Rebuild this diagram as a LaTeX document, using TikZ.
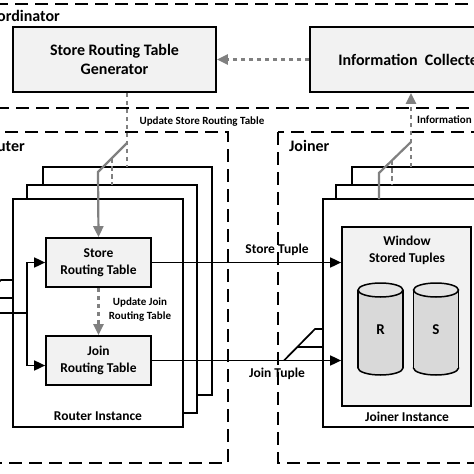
\documentclass[tikz,border=0pt]{standalone}
\usepackage{fontspec}
\setmainfont{Carlito}
\usetikzlibrary{positioning,
	arrows.meta}
\definecolor{boxgray}{HTML}{F2F2F2}
\definecolor{cylgray}{HTML}{D9D9D9}
\definecolor{linegray}{HTML}{808080}

\begin{document}
\begin{tikzpicture}[x=1pt, y=-1pt,
		region/.style={draw, line width=1.8pt, dash pattern=on 13pt off 7pt},
		inst/.style={draw, fill=white, line width=1.7pt, inner sep=0pt},
		gen/.style={draw, fill=boxgray, line width=1.7pt, align=center, inner sep=0pt, font=\fontsize{16}{19}\selectfont\bfseries},
		rtable/.style={draw, fill=boxgray, line width=1.7pt, align=center, inner sep=0pt, minimum width=105pt, minimum height=49pt, font=\fontsize{13.5}{17}\selectfont\bfseries},
		lbl/.style={font=\fontsize{13.5}{17}\selectfont\bfseries, align=center, inner sep=1pt},
		small/.style={font=\fontsize{11}{14}\selectfont\bfseries, align=center, inner sep=1pt},
		big/.style={font=\fontsize{16}{19}\selectfont\bfseries, inner sep=0pt},
		flow/.style={line width=1.7pt, -{Triangle[length=11pt, width=10pt]}},
		gline/.style={draw=linegray, line width=2.2pt},
		gdot/.style={gline, dash pattern=on 4.5pt off 3.5pt},
		gtip/.style={-{Triangle[length=11pt, width=10pt]}}]
	\useasboundingbox (0,0) rectangle (474,474);

	% regions
	\draw[region] (-20,4) rectangle (500,108);
	\draw[region] (-20,132) rectangle (228,463);
	\draw[region] (278,132) rectangle (500,463);
	\node (coord) [big, anchor=east] at (60,16) {Coordinator};
	\node (router) [big, anchor=east] at (25,146) {Router};
	\node (joiner) [big, anchor=west] at (289,146) {Joiner};

	% coordinator
	\node (srtg) [gen, minimum width=203pt, minimum height=65pt] at (114.5,59.5) {Store Routing Table\\Generator};
	\node (ic) [gen, minimum width=202pt, minimum height=65pt] at (411,59.5) {Information\ \ Collecter};
	\draw[gdot, gtip] (ic.west) -- (srtg.east);

	% router instances
	\node (rback) [inst, minimum width=169pt, minimum height=228pt] at (127.5,281) {};
	\node (rmid) [inst, minimum width=170pt, minimum height=228pt] at (112,299) {};
	\node (rinst) [inst, minimum width=170pt, minimum height=228pt] at (98,313) {};
	\node (rname) [lbl] at (98,416) {Router Instance};
	\node (srt) [rtable] at (98.5,262.5) {Store\\Routing Table};
	\node (jrt) [rtable] at (98.5,360.5) {Join\\Routing Table};

	% joiner instances
	\node (jback) [inst, minimum width=208pt, minimum height=228pt] at (456,281) {};
	\node (jmid) [inst, minimum width=224pt, minimum height=228pt] at (448,299) {};
	\node (jinst) [inst, minimum width=237pt, minimum height=228pt] at (441.5,313) {};
	\node (jname) [lbl] at (407,417) {Joiner Instance};
	\node (win) [draw, fill=boxgray, line width=1.7pt, minimum width=129pt, minimum height=179pt] at (406.5,316.5) {};
	\node (wname) [lbl] at (407,250) {Window\\Stored Tuples};

	% cylinders
	\foreach \cx/\name in {380.5/R, 436/S} {
		\filldraw[fill=cylgray, line width=1.5pt] (\cx,368) ellipse [x radius=22.5, y radius=7];
		\fill[cylgray] (\cx-22.5,290) rectangle (\cx+22.5,368);
		\draw[line width=1.5pt] (\cx-22.5,290) -- (\cx-22.5,368) (\cx+22.5,290) -- (\cx+22.5,368);
		\filldraw[fill=cylgray!70!white, line width=1.5pt] (\cx,290) ellipse [x radius=22.5, y radius=7];
		\node (cyl\name) [lbl, font=\fontsize{15}{18}\selectfont\bfseries] at (\cx,330) {\name};
	}

	% update paths
	\coordinate (rtop) at (127,167);
	\coordinate (rbend) at (98,172);
	\draw[gdot] (srtg.south -| rtop) -- (rtop);
	\draw[gdot] (112,158) -- (112,185);
	\draw[gline, gtip] (127,143) -- (rbend) -- (srt.north);
	\node (upstore) [small] at (202,122) {Update Store Routing Table};

	\coordinate (jtop) at (411,167);
	\coordinate (jbend) at (379,173);
	\draw[gdot, gtip] (jtop) -- (ic.south);
	\draw[gdot] (392,160) -- (392,185);
	\draw[gline] (379,199) -- (jbend) -- (411,142);
	\node (info) [small, anchor=west] at (416,120) {Information};

	\draw[gdot, gtip] (srt.south) -- (jrt.north);
	\node (upjoin) [small] at (140,310) {Update Join\\Routing Table};

	% tuples
	\draw[flow] (srt.east) -- (srt.east -| win.west);
	\node (stuple) [lbl] at (277,250) {Store Tuple};
	\draw[flow] (jrt.east) -- (jrt.east -| win.west);
	\node (jtuple) [lbl] at (277,374) {Join Tuple};
	\draw[line width=1.7pt] (284,360.5) -- (315,329) -- (jinst.west |- 0,329);
	\draw[line width=1.7pt] (297,347) -- (jinst.west |- 0,347);

	% router input
	\coordinate (rin) at (27,313);
	\draw[line width=1.7pt] (-40,313) -- (rin);
	\draw[line width=1.7pt] (-32,313) -- (1,280) -- (rinst.west |- 0,280);
	\draw[line width=1.7pt] (-16,298) -- (rinst.west |- 0,298);
	\draw[flow] (rin) |- (srt.west);
	\draw[flow] (rin) |- ([yshift=-5pt]jrt.west);
\end{tikzpicture}
\end{document}
